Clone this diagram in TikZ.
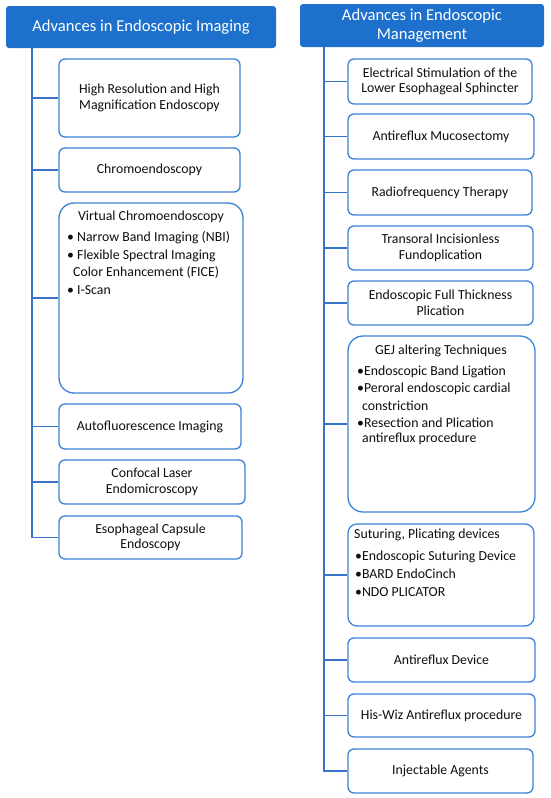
\documentclass[tikz,border=0pt]{standalone}
\usepackage{fontspec}
\setmainfont{Carlito}
\definecolor{hdrblue}{RGB}{30,112,205}
\definecolor{boxblue}{RGB}{60,130,215}
\definecolor{lineblue}{RGB}{55,115,200}
\definecolor{txt}{RGB}{15,15,15}
\begin{document}
\begin{tikzpicture}[x=1pt,y=-1pt,
  hdr/.style={draw=none,fill=hdrblue,rounded corners=3pt,text=white,align=center,
    font=\fontsize{16.6}{18.5}\selectfont,inner sep=0pt},
  itembox/.style={draw=boxblue,line width=1.3pt,rounded corners=6pt,fill=white,
    align=center,text=txt,font=\fontsize{13.8}{15.5}\selectfont,inner sep=0pt},
  bigbox/.style={itembox,rounded corners=15pt},
  midbox/.style={itembox,rounded corners=9pt},
  ln/.style={text=txt,font=\fontsize{13.8}{15.5}\selectfont,inner sep=0pt},
  conn/.style={draw=lineblue,line width=1.3pt}]
\useasboundingbox (0,0) rectangle (550,798);
\fill[white] (0,0) rectangle (550,798);

% left column
\node[hdr,minimum width=270pt,minimum height=42pt] (lh) at (141,27) {Advances in Endoscopic Imaging};
\coordinate (lt) at (32,48);
\node[itembox,minimum width=181pt,minimum height=78pt] (l1) at (149.5,98) {High Resolution and High\\Magnification Endoscopy};
\node[itembox,minimum width=181pt,minimum height=44pt] (l2) at (149.5,170) {Chromoendoscopy};
\node[bigbox,minimum width=184pt,minimum height=190pt] (l3) at (151,298) {};
\node[itembox,minimum width=182pt,minimum height=45pt] (l4) at (150,426.5) {Autofluorescence Imaging};
\node[itembox,minimum width=186pt,minimum height=44pt] (l5) at (152,482) {Confocal Laser\\Endomicroscopy};
\node[itembox,minimum width=183pt,minimum height=43pt] (l6) at (150.5,537.5) {Esophageal Capsule\\Endoscopy};

\node[ln] (v0) at (151,217) {Virtual Chromoendoscopy};
\node[ln,anchor=west] (v1) at (67,238) {• Narrow Band Imaging (NBI)};
\node[ln,anchor=west] (v2) at (67,256) {• Flexible Spectral Imaging};
\node[ln,anchor=west] (v3) at (73,272) {Color Enhancement (FICE)};
\node[ln,anchor=west] (v4) at (67,290) {• I-Scan};

\draw[conn] (lt) |- (l6.west);
\foreach \b in {l1,l2,l3,l4,l5}{\draw[conn] (lt |- \b.west) -- (\b.west);}

% right column
\node[hdr,minimum width=244pt,minimum height=43pt] (rh) at (422,25.5) {Advances in Endoscopic\\Management};
\coordinate (rt) at (324,47);
\node[itembox,minimum width=184pt,minimum height=45pt] (r1) at (440,81.5) {Electrical Stimulation of the\\Lower Esophageal Sphincter};
\node[itembox,minimum width=186pt,minimum height=45pt] (r2) at (441,136.5) {Antireflux Mucosectomy};
\node[itembox,minimum width=184pt,minimum height=45pt] (r3) at (440,192.5) {Radiofrequency Therapy};
\node[itembox,minimum width=185pt,minimum height=44pt] (r4) at (440.5,248) {Transoral Incisionless\\Fundoplication};
\node[itembox,minimum width=185pt,minimum height=44pt] (r5) at (440.5,303) {Endoscopic Full Thickness\\Plication};
\node[bigbox,minimum width=187pt,minimum height=176pt] (r6) at (441.5,424) {};
\node[midbox,minimum width=186pt,minimum height=102pt] (r7) at (441,575) {};
\node[itembox,minimum width=187pt,minimum height=44pt] (r8) at (441.5,660) {Antireflux Device};
\node[itembox,minimum width=187pt,minimum height=43pt] (r9) at (441.5,715.5) {His-Wiz Antireflux procedure};
\node[itembox,minimum width=185pt,minimum height=44pt] (r10) at (440.5,771) {Injectable Agents};

\node[ln] (g0) at (441,351) {GEJ altering Techniques};
\node[ln,anchor=west] (g1) at (357,372) {•Endoscopic Band Ligation};
\node[ln,anchor=west] (g2) at (357,389) {•Peroral endoscopic cardial};
\node[ln,anchor=west] (g3) at (362,406) {constriction};
\node[ln,anchor=west] (g4) at (357,423) {•Resection and Plication};
\node[ln,anchor=west] (g5) at (362,439) {antireflux procedure};

\node[ln,anchor=west] (s0) at (354,535) {Suturing, Plicating devices};
\node[ln,anchor=west] (s1) at (355,557) {•Endoscopic Suturing Device};
\node[ln,anchor=west] (s2) at (355,574) {•BARD EndoCinch};
\node[ln,anchor=west] (s3) at (355,592) {•NDO PLICATOR};

\draw[conn] (rt) |- (r10.west);
\foreach \b in {r1,r2,r3,r4,r5,r6,r7,r8,r9}{\draw[conn] (rt |- \b.west) -- (\b.west);}
\end{tikzpicture}
\end{document}
